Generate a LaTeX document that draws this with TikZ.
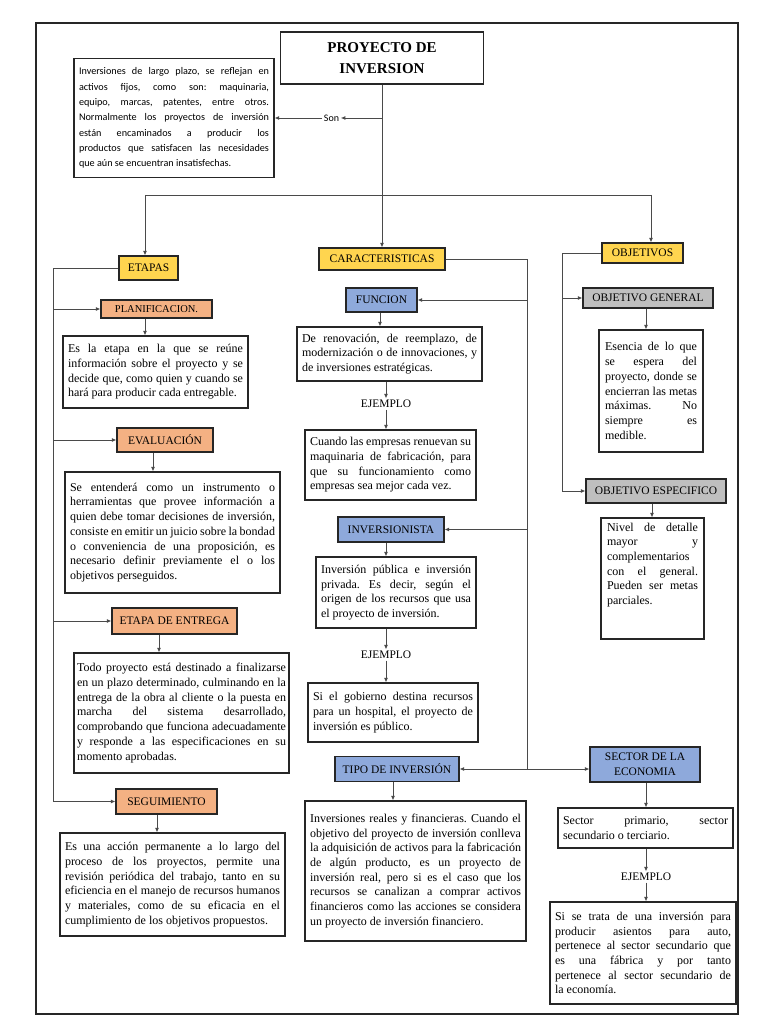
\documentclass[tikz,border=0pt]{standalone}
\usepackage{fontspec}
\setmainfont{Liberation Serif}
\newfontfamily\sansf{Carlito}
\usetikzlibrary{arrows.meta}
\definecolor{yel}{HTML}{FFD54F}
\definecolor{ora}{HTML}{F4B183}
\definecolor{blu}{HTML}{8EA9DB}
\definecolor{gry}{HTML}{BFBFBF}
\definecolor{boxc}{HTML}{262626}
\definecolor{linec}{HTML}{4A4A4A}
\hyphenpenalty=10000 \exhyphenpenalty=10000 \tolerance=9999 \hbadness=10000
\frenchspacing
\newcommand\bodyfont{\fontsize{12}{14.7}\selectfont}
\newcommand\lblfont{\fontsize{11.5}{15}\selectfont}
\tikzset{
  lab/.style={draw=boxc, line width=1.1pt, font=\lblfont, inner sep=0pt, align=center},
  desc/.style={draw=boxc, line width=1.1pt, font=\bodyfont, inner xsep=5pt, inner ysep=0pt, align=justify},
  titlebox/.style={draw=boxc, line width=1.2pt, inner sep=0pt, align=center, font=\fontsize{15}{21}\selectfont\bfseries, minimum width=203pt, minimum height=52pt},
  plain/.style={font=\lblfont, inner sep=1.5pt},
  con/.style={draw=linec, line width=0.9pt},
  arr/.style={con, -{Latex[length=4.5pt,width=4pt]}},
}
\begin{document}
\begin{tikzpicture}[x=1pt,y=-1pt]
\useasboundingbox (0,0) rectangle (768,1024);
\fill[white] (0,0) rectangle (768,1024);
\draw[draw=boxc, line width=1.2pt] (36,23) rectangle (738,1014);

% top
\node[titlebox] (title) at (382,58) {PROYECTO DE\\INVERSION};
\node[desc, font=\sansf\fontsize{10.2}{15.3}\selectfont, text width=190pt, minimum height=119pt] (inv) at (174,118) {Inversiones de largo plazo, se reflejan en\linebreak activos fijos, como son: maquinaria,\linebreak equipo, marcas, patentes, entre otros.\linebreak Normalmente los proyectos de inversión\linebreak están encaminados a producir los\linebreak productos que satisfacen las necesidades\linebreak que aún se encuentran insatisfechas.};
\node[font=\sansf\fontsize{10}{12}\selectfont, inner sep=1.5pt] (son) at (331.5,118) {Son};

% level 1
\node[lab, fill=yel, minimum width=59pt, minimum height=24pt] (etapas) at (148.5,268) {ETAPAS};
\node[lab, fill=yel, minimum width=126pt, minimum height=22pt] (caract) at (382,259) {CARACTERISTICAS};
\node[lab, fill=yel, minimum width=81pt, minimum height=20pt] (objetivos) at (642.5,253) {OBJETIVOS};

% etapas column
\node[lab, fill=ora, minimum width=111pt, minimum height=18pt, font=\fontsize{10.5}{13}\selectfont] (plan) at (156.5,309) {PLANIFICACION.};
\node[desc, text width=175pt, minimum height=72pt] (pland) at (155.5,372) {Es la etapa en la que se reúne\linebreak información sobre el proyecto y se\linebreak decide que, como quien y cuando se\linebreak hará para producir cada entregable.};
\node[lab, fill=ora, minimum width=96pt, minimum height=24pt] (eval) at (165,440) {EVALUACIÓN};
\node[desc, text width=205pt, minimum height=121pt] (evald) at (172.5,532.5) {Se entenderá como un instrumento o\linebreak herramientas que provee información a\linebreak quien debe tomar decisiones de inversión,\linebreak consiste en emitir un juicio sobre la bondad\linebreak o conveniencia de una proposición, es\linebreak necesario definir previamente el o los\linebreak objetivos perseguidos.};
\node[lab, fill=ora, minimum width=125pt, minimum height=26pt] (entrega) at (174.5,621) {ETAPA DE ENTREGA};
\node[desc, inner xsep=3pt, text width=209pt, minimum height=120pt] (entregad) at (181.5,713) {Todo proyecto está destinado a finalizarse\linebreak en un plazo determinado, culminando en la\linebreak entrega de la obra al cliente o la puesta en\linebreak marcha del sistema desarrollado,\linebreak comprobando que funciona adecuadamente\linebreak y responde a las especificaciones en su\linebreak momento aprobadas.};
\node[lab, fill=ora, minimum width=101pt, minimum height=25pt] (seg) at (166.5,801.5) {SEGUIMIENTO};
\node[desc, text width=215pt, minimum height=103pt] (segd) at (172.5,884.5) {Es una acción permanente a lo largo del\linebreak proceso de los proyectos, permite una\linebreak revisión periódica del trabajo, tanto en su\linebreak eficiencia en el manejo de recursos humanos\linebreak y materiales, como de su eficacia en el\linebreak cumplimiento de los objetivos propuestos.};

% caracteristicas column
\node[lab, fill=blu, minimum width=71pt, minimum height=24pt] (funcion) at (381.5,300) {FUNCION};
\node[desc, text width=175pt, minimum height=54pt] (funciond) at (389.5,354) {De renovación, de reemplazo, de\linebreak modernización o de innovaciones, y\linebreak de inversiones estratégicas.};
\node[plain] (ej1) at (386,404) {EJEMPLO};
\node[desc, text width=161pt, minimum height=70pt] (funcionex) at (390.5,465) {Cuando las empresas renuevan su\linebreak maquinaria de fabricación, para\linebreak que su funcionamiento como\linebreak empresas sea mejor cada vez.};
\node[lab, fill=blu, minimum width=106pt, minimum height=25pt] (inversionista) at (391,529.5) {INVERSIONISTA};
\node[desc, text width=150pt, minimum height=71pt] (inversionistad) at (396,592.5) {Inversión pública e inversión\linebreak privada. Es decir, según el\linebreak origen de los recursos que usa\linebreak el proyecto de inversión.};
\node[plain] (ej2) at (386,655) {EJEMPLO};
\node[desc, text width=160pt, minimum height=59pt] (invex) at (393,712.5) {Si el gobierno destina recursos\linebreak para un hospital, el proyecto de\linebreak inversión es público.};
\node[lab, fill=blu, minimum width=124pt, minimum height=25pt] (tipo) at (397,769) {TIPO DE INVERSIÓN};
\node[desc, text width=211pt, minimum height=140pt] (tipod) at (415.5,871) {Inversiones reales y financieras. Cuando el\linebreak objetivo del proyecto de inversión conlleva\linebreak la adquisición de activos para la fabricación\linebreak de algún producto, es un proyecto de\linebreak inversión real, pero si es el caso que los\linebreak recursos se canalizan a comprar activos\linebreak financieros como las acciones se considera\linebreak un proyecto de inversión financiero.};

% objetivos column
\node[lab, fill=gry, minimum width=130pt, minimum height=20pt] (ogen) at (648,298) {OBJETIVO GENERAL};
\node[desc, inner xsep=6pt, text width=92pt, minimum height=122pt] (ogend) at (651,391) {Esencia de lo que\linebreak se espera del\linebreak proyecto, donde se\linebreak encierran las metas\linebreak máximas. No\linebreak siempre es\linebreak medible.};
\node[lab, fill=gry, minimum width=140pt, minimum height=24pt] (oesp) at (656,491) {OBJETIVO ESPECIFICO};
\node[desc, inner xsep=6pt, text width=91pt, minimum height=121pt] (oespd) at (652.5,578.5) {Nivel de detalle\linebreak mayor y\linebreak complementarios\linebreak con el general.\linebreak Pueden ser metas\linebreak parciales.\par\rule{0pt}{26pt}};
\node[lab, fill=blu, minimum width=110pt, minimum height=35pt] (sector) at (645,764.5) {SECTOR DE LA\\ECONOMIA};
\node[desc, text width=165pt, minimum height=40pt] (sectord) at (645.5,828) {Sector primario, sector\linebreak secundario o terciario.};
\node[plain] (ej3) at (646,877) {EJEMPLO};
\node[desc, text width=176pt, minimum height=102pt] (sectorex) at (643,953) {Si se trata de una inversión para\linebreak producir asientos para auto,\linebreak pertenece al sector secundario que\linebreak es una fábrica y por tanto\linebreak pertenece al sector secundario de\linebreak la economía.};

% connectors: top
\coordinate (sonj) at (382,118);
\coordinate (busL) at (145,195);
\coordinate (busR) at (651,195);
\draw[arr] (title.south) -- (caract.north);
\draw[arr] (sonj) -- (son.east);
\draw[arr] (son.west) -- (inv.east);
\draw[con] (busL) -- (busR);
\draw[arr] (busL) -- (busL |- etapas.north);
\draw[arr] (busR) -- (busR |- objetivos.north);

% etapas rail
\coordinate (railE) at (53,268);
\draw[con] (etapas.west) -- (railE) -- (railE |- seg.west);
\draw[arr] (railE |- plan.west) -- (plan.west);
\draw[arr] (railE |- eval.west) -- (eval.west);
\draw[arr] (railE |- entrega.west) -- (entrega.west);
\draw[arr] (railE |- seg.west) -- (seg.west);
\draw[arr] (plan.south -| 145,0) -- (pland.north -| 145,0);
\draw[arr] (eval.south -| 153,0) -- (evald.north -| 153,0);
\draw[arr] (entrega.south -| 159,0) -- (entregad.north -| 159,0);
\draw[arr] (seg.south -| 157,0) -- (segd.north -| 157,0);

% caracteristicas rail
\coordinate (railC) at (527,769);
\draw[con] (caract.east) -| (railC);
\draw[arr] (railC |- funcion.east) -- (funcion.east);
\draw[arr] (railC |- inversionista.east) -- (inversionista.east);
\draw[arr] (railC) -- (tipo.east);
\draw[arr] (railC) -- (railC -| sector.west);
\draw[arr] (funcion.south -| 380,0) -- (funciond.north -| 380,0);
\draw[arr] (funciond.south -| 386,0) -- (ej1.north);
\draw[arr] (ej1.south) -- (funcionex.north -| 386,0);
\draw[arr] (inversionista.south -| 386,0) -- (inversionistad.north -| 386,0);
\draw[arr] (inversionistad.south -| 386,0) -- (ej2.north);
\draw[arr] (ej2.south) -- (invex.north -| 386,0);
\draw[arr] (tipo.south -| 393,0) -- (tipod.north -| 393,0);

% objetivos rail
\coordinate (railO) at (562,253);
\draw[con] (objetivos.west) -- (railO) -- (railO |- oesp.west);
\draw[arr] (railO |- ogen.west) -- (ogen.west);
\draw[arr] (railO |- oesp.west) -- (oesp.west);
\draw[arr] (ogen.south -| 646,0) -- (ogend.north -| 646,0);
\draw[arr] (oesp.south -| 652,0) -- (oespd.north -| 652,0);
\draw[arr] (sector.south -| 646,0) -- (sectord.north -| 646,0);
\draw[arr] (sectord.south -| 646,0) -- (ej3.north);
\draw[arr] (ej3.south) -- (sectorex.north -| 646,0);
\end{tikzpicture}
\end{document}
